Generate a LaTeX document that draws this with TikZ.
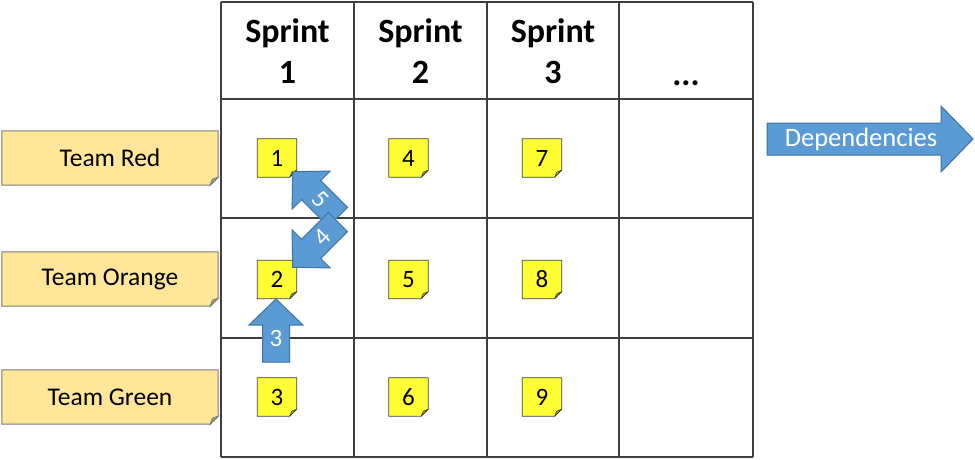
\documentclass[tikz,border=0pt]{standalone}
\usepackage{fontspec}
\setmainfont{Carlito}
\definecolor{gridc}{HTML}{3F3F3F}
\definecolor{noteY}{HTML}{FFFF33}
\definecolor{teamF}{HTML}{FFE699}
\definecolor{teamB}{HTML}{7A7A7A}
\definecolor{arrF}{HTML}{5B9BD5}
\definecolor{arrB}{HTML}{41719C}
\tikzset{
  gridline/.style={draw=gridc, line width=1.5pt},
  header/.style={font=\bfseries\fontsize{34}{41}\selectfont, align=center, inner sep=0pt},
  notebox/.style={minimum width=39pt, minimum height=38pt, inner sep=0pt},
  notetext/.style={font=\fontsize{25}{30}\selectfont, inner sep=0pt},
  noteshape/.style={fill=noteY, draw=black!75, line width=0.8pt, line join=round},
  foldshape/.style={fill=noteY!70!black, draw=black!75, line width=0.6pt, line join=round},
  teambox/.style={minimum width=216pt, minimum height=54pt, inner sep=0pt},
  teamtext/.style={font=\fontsize{25.5}{30}\selectfont, inner sep=0pt},
  teamshape/.style={fill=teamF, draw=teamB, line width=1pt},
  teamfold/.style={fill=teamF!70!black, draw=teamB, line width=0.8pt},
  arrowshape/.style={fill=arrF, draw=arrB, line width=1pt, line join=miter},
  arrowtext/.style={text=white, font=\fontsize{25}{30}\selectfont, inner sep=0pt},
}
% sticky note: name, x, y, text
\newcommand\stickynote[4]{%
  \node[notebox] (#1) at (#2,#3) {};
  \draw[noteshape] (#1.north west) -- (#1.north east) -- ([yshift=7pt]#1.south east)
     -- ([xshift=-7pt]#1.south east) -- (#1.south west) -- cycle;
  \draw[foldshape] ([yshift=7pt]#1.south east) -- ([xshift=-7pt]#1.south east)
     -- ([xshift=-5pt,yshift=5pt]#1.south east) -- cycle;
  \node[notetext] (#1t) at (#1.center) {#4};
}
% team label: name, y, text
\newcommand\teamlabel[3]{%
  \node[teambox] (#1) at (110,#2) {};
  \draw[teamshape] (#1.north west) -- (#1.north east) -- ([yshift=8pt]#1.south east)
     -- ([xshift=-8pt]#1.south east) -- (#1.south west) -- cycle;
  \draw[teamfold] ([yshift=8pt]#1.south east) -- ([xshift=-8pt]#1.south east)
     -- ([xshift=-6pt,yshift=6pt]#1.south east) -- cycle;
  \node[teamtext] (#1t) at (#1.center) {#3};
}
% dependency block arrow: x, y (tail centre), angle, length, label, label pos, label rotation
\newcommand\deparrow[7]{%
  \begin{scope}[shift={(#1,#2)}, rotate=#3, x=1pt, y=1pt]
    \draw[arrowshape] (0,-13.5) -- ({#4-26},-13.5) -- ({#4-26},-27) -- (#4,0)
       -- ({#4-26},27) -- ({#4-26},13.5) -- (0,13.5) -- cycle;
    \node[arrowtext, rotate=#7] at (#6,0) {#5};
  \end{scope}
}
\begin{document}
\begin{tikzpicture}[x=1pt,y=-1pt]
  \fill[white] (0,0) rectangle (975,459);
  \useasboundingbox (0,0) rectangle (975,459);
  % grid
  \foreach \gx in {221,354,487,619,753} \draw[gridline] (\gx,2) -- (\gx,457);
  \foreach \gy in {2,99,218,338,457} \draw[gridline] (221,\gy) -- (753,\gy);
  % headers
  \node[header] (s1) at (287.5,51) {Sprint\\1};
  \node[header] (s2) at (420.5,51) {Sprint\\2};
  \node[header] (s3) at (553,51) {Sprint\\3};
  \node[header, anchor=base] (s4) at (686,85) {...};
  % notes
  \stickynote{n1}{277}{158}{1}
  \stickynote{n4}{408.5}{158}{4}
  \stickynote{n7}{542}{158}{7}
  \stickynote{n2}{277}{279.5}{2}
  \stickynote{n5}{408.5}{279.5}{5}
  \stickynote{n8}{542}{279.5}{8}
  \stickynote{n3}{277}{397}{3}
  \stickynote{n6}{408.5}{397}{6}
  \stickynote{n9}{542}{397}{9}
  % teams
  \teamlabel{tr}{158}{Team Red}
  \teamlabel{to}{279}{Team Orange}
  \teamlabel{tg}{397}{Team Green}
  % dependency arrows
  \deparrow{338}{217}{135}{64}{5}{25}{-45}
  \deparrow{338}{222}{225}{64}{4}{22}{45}
  \deparrow{276}{362}{90}{63}{3}{24}{0}
  % legend arrow
  \draw[arrowshape] (767,123) -- (941,123) -- (941,106) -- (973,139) -- (941,172)
     -- (941,155) -- (767,155) -- cycle;
  \node[arrowtext, font=\fontsize{26.5}{31}\selectfont] (dep) at (861,139) {Dependencies};
\end{tikzpicture}
\end{document}
